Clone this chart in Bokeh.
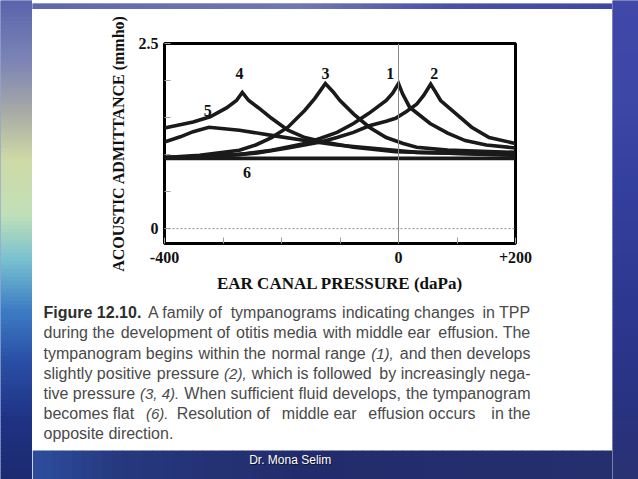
from bokeh.plotting import figure
from bokeh.models import Label, BoxAnnotation, Span, FixedTicker
from bokeh.layouts import row, column
from bokeh.embed import file_html
from bokeh.resources import INLINE

# ---------------- data ----------------
# pressure in daPa, admittance in mmho
x1 = [-400, -357, -272, -217, -160, -133, -105, -77, -50, -21, -10, 0, 7, 19, 54, 84, 114, 150, 200]
y1 = [0.96, 0.97, 1.00, 1.06, 1.15, 1.22, 1.30, 1.42, 1.56, 1.73, 1.83, 1.96, 1.82, 1.64, 1.42, 1.29, 1.19, 1.13, 1.09]

x2 = [-400, -300, -244, -189, -133, -105, -77, -50, -21, -5, 13, 31, 43, 55, 63, 72, 97, 125, 155, 200]
y2 = [0.96, 0.99, 1.02, 1.09, 1.17, 1.23, 1.30, 1.39, 1.45, 1.49, 1.58, 1.68, 1.80, 1.95, 1.85, 1.73, 1.56, 1.37, 1.23, 1.15]

x3 = [-400, -340, -272, -244, -217, -189, -160, -143, -133, -125, -112, -100, -77, -50, -21, 8, 31, 84, 200]
y3 = [0.96, 0.99, 1.06, 1.13, 1.23, 1.37, 1.60, 1.76, 1.87, 1.96, 1.85, 1.73, 1.55, 1.37, 1.23, 1.15, 1.10, 1.06, 1.03]

x4 = [-400, -351, -322, -294, -277, -267, -256, -239, -217, -189, -160, -127, -77, -5, 84, 200]
y4 = [1.36, 1.44, 1.51, 1.63, 1.73, 1.84, 1.73, 1.63, 1.49, 1.33, 1.23, 1.17, 1.10, 1.04, 1.02, 0.99]

x5 = [-400, -373, -351, -324, -272, -217, -160, -105, 31, 200]
y5 = [1.17, 1.24, 1.31, 1.37, 1.33, 1.26, 1.19, 1.13, 1.03, 1.00]

x6 = [-400, 200]
y6 = [0.95, 0.95]

curve_names = ["1", "2", "3", "4", "5", "6"]
# where each curve's number is printed (data units)
name_x = [-14, 61, -125, -272, -326, -259]
name_y = [2.09, 2.09, 2.09, 2.09, 1.60, 0.76]

x_ticks = [-400, -300, -200, -100, 0, 100, 200]
x_tick_labels = {-400: "-400", -300: "", -200: "", -100: "", 0: "0", 100: "", 200: "+200"}
y_ticks = [0, 0.5, 1.0, 1.5, 2.0, 2.5]
y_tick_labels = {0: "0", 0.5: "", 1.0: "", 1.5: "", 2.0: "", 2.5: "2.5"}

x_title = "EAR CANAL PRESSURE (daPa)"
y_title = "ACOUSTIC ADMITTANCE (mmho)"

# caption: one list of (phrase, style) per printed line
caption_lines = [
    [("Figure 12.10.", "bold"), ("A family of", "normal"), ("tympanograms", "normal"),
     ("indicating changes", "normal"), ("in TPP", "normal")],
    [("during the", "normal"), ("development of", "normal"), ("otitis media", "normal"),
     ("with middle ear", "normal"), ("effusion. The", "normal")],
    [("tympanogram begins", "normal"), ("within the", "normal"), ("normal range", "normal"),
     ("(1),", "italic"), ("and then develops", "normal")],
    [("slightly positive", "normal"), ("pressure", "normal"), ("(2),", "italic"),
     ("which is followed", "normal"), ("by increasingly nega-", "normal")],
    [("tive pressure", "normal"), ("(3, 4).", "italic"), ("When sufficient", "normal"),
     ("fluid develops,", "normal"), ("the tympanogram", "normal")],
    [("becomes flat", "normal"), ("(6).", "italic"), ("Resolution of", "normal"),
     ("middle ear", "normal"), ("effusion occurs", "normal"), ("in the", "normal")],
    [("opposite direction.", "normal")],
]
footer = "Dr. Mona Selim"

# ---------------- layout (page pixels) ----------------
PAGE_W, PAGE_H = 638, 479
PL, PR, PT, PB = 32, 612, 9, 450        # white page
CHART_BOTTOM = 300                       # chart figure covers PT..CHART_BOTTOM
FL, FR, FT, FB = 164, 515, 43, 243       # plot frame (page pixels)
TXT_L, TXT_R = 43, 530                   # caption text block
cap_line_y = [311.7, 331.7, 352.7, 373.3, 393.3, 413.3, 433.3]
SIZE = {"normal": 16.0, "bold": 16.0, "italic": 15.0}

# Arial / Liberation Sans advance widths (1/1000 em)
_W = {" ": 278, "(": 333, ")": 333, ",": 278, "-": 333, ".": 278,
      "A": 667, "F": 611, "P": 667, "R": 722, "T": 611, "W": 944,
      "a": 556, "b": 556, "c": 500, "d": 556, "e": 556, "f": 278, "g": 556, "h": 556,
      "i": 222, "j": 222, "k": 500, "l": 222, "m": 833, "n": 556, "o": 556, "p": 556,
      "q": 556, "r": 333, "s": 500, "t": 278, "u": 556, "v": 500, "w": 722, "x": 500,
      "y": 500, "z": 500}
_WB = {" ": 278, ".": 278, "F": 611, "i": 278, "g": 611, "u": 611, "r": 389, "e": 556}


def text_w(s, style):
    tab = _WB if style == "bold" else _W
    return sum(tab.get(ch, 556) for ch in s) / 1000.0 * SIZE[style]


def hex2rgb(h):
    h = h.lstrip("#")
    return tuple(int(h[i:i + 2], 16) for i in (0, 2, 4))


def grad(stops, t):
    for (t0, c0), (t1, c1) in zip(stops, stops[1:]):
        if t0 <= t <= t1:
            f = 0 if t1 == t0 else (t - t0) / (t1 - t0)
            a, b = hex2rgb(c0), hex2rgb(c1)
            return "#%02x%02x%02x" % tuple(int(round(a[i] + (b[i] - a[i]) * f)) for i in range(3))
    return stops[-1][1]


def no_align(f):
    if "frame_align" in f.properties():
        f.frame_align = False


def blank(w, h, color):
    f = figure(width=w, height=h, output_backend="svg", toolbar_location=None,
               x_axis_location=None, y_axis_location=None,
               min_border=0, min_border_left=0, min_border_right=0,
               min_border_top=0, min_border_bottom=0)
    f.title.visible = False
    f.grid.visible = False
    f.outline_line_color = None
    f.background_fill_color = color
    f.border_fill_color = color
    no_align(f)
    return f


def box(f, l, r, t, b, color):
    f.add_layout(BoxAnnotation(left=l, right=r, top=t, bottom=b,
                               left_units="canvas", right_units="canvas",
                               top_units="canvas", bottom_units="canvas",
                               fill_color=color, fill_alpha=1.0, line_color=None))


# ---------------- chart figure ----------------
CW, CH = PR - PL, CHART_BOTTOM - PT
p = figure(width=CW, height=CH, x_range=(-400, 200), y_range=(-0.2, 2.5),
           output_backend="svg", toolbar_location=None,
           min_border_left=FL - PL, min_border_right=PR - FR,
           min_border_top=FT - PT, min_border_bottom=CHART_BOTTOM - FB)
no_align(p)
p.title.visible = False
p.xgrid.visible = False
p.ygrid.visible = False
p.background_fill_color = "white"
p.border_fill_color = "white"
p.outline_line_color = "black"
p.outline_line_width = 3

p.xaxis.ticker = FixedTicker(ticks=x_ticks)
p.xaxis.major_label_overrides = x_tick_labels
p.yaxis.ticker = FixedTicker(ticks=y_ticks)
p.yaxis.major_label_overrides = y_tick_labels
p.xaxis.axis_label = x_title
p.yaxis.axis_label = y_title
for ax in (p.xaxis[0], p.yaxis[0]):
    ax.axis_line_color = None
    ax.major_tick_in = 6
    ax.major_tick_out = 0
    ax.major_tick_line_color = "#a0a0a0"
    ax.minor_tick_line_color = None
    ax.major_label_text_font = "Liberation Serif"
    ax.major_label_text_font_style = "bold"
    ax.major_label_text_font_size = "16px"
    ax.major_label_text_color = "#111111"
    ax.axis_label_text_font = "Liberation Serif"
    ax.axis_label_text_font_style = "bold"
    ax.axis_label_text_color = "#111111"
p.xaxis.axis_label_text_font_size = "17px"
p.yaxis.axis_label_text_font_size = "16px"
p.xaxis.major_label_standoff = 8
p.yaxis.major_label_standoff = 6
p.xaxis.axis_label_standoff = 8
p.yaxis.axis_label_standoff = 9

p.add_layout(Span(location=0, dimension="height", line_color="#8a8a8a", line_width=1))
p.add_layout(Span(location=0, dimension="width", line_color="#8a8a8a", line_width=1, line_dash="2 2"))

for xs, ys in zip([x1, x2, x3, x4, x5], [y1, y2, y3, y4, y5]):
    p.line(xs, ys, line_color="#1a1a1a", line_width=3.6, line_join="miter")
p.line(x6, y6, line_color="#1a1a1a", line_width=3.8)

for name, nx, ny in zip(curve_names, name_x, name_y):
    p.add_layout(Label(x=nx, y=ny, text=name, text_align="center", text_baseline="middle",
                       text_font="Liberation Serif", text_font_style="bold",
                       text_font_size="16px", text_color="#111111"))

# ---------------- slide background pieces ----------------
left_stops = [(0, "#5b64ac"), (60, "#7c84b6"), (110, "#a6a9a6"), (160, "#cfdaa6"), (215, "#c0e0b8"),
              (260, "#78c0d0"), (310, "#3d7cc4"), (360, "#2a4fa6"), (420, "#1f3283"), (479, "#1d2a70")]
right_stops = [(0, "#4048a8"), (100, "#3d47a6"), (200, "#333f9c"), (300, "#2d3890"),
               (400, "#283383"), (479, "#2a3272")]
bottom_stops = [(0, "#2f55a8"), (120, "#26387e"), (300, "#222c6c"), (638, "#262f6e")]
top_stops = [(0, "#5e66ac"), (300, "#7078b0"), (450, "#4a50a8"), (638, "#3e46a6")]

step = 4
left_fig = blank(PL, PAGE_H, "#2a4fa6")
right_fig = blank(PAGE_W - PR, PAGE_H, "#2d3890")
for yy in range(0, PAGE_H, step):
    box(left_fig, 0, PL, yy, yy + step + 0.5, grad(left_stops, yy + step / 2))
    box(right_fig, 0, PAGE_W - PR, yy, yy + step + 0.5, grad(right_stops, yy + step / 2))

top_fig = blank(CW, PT, "#4a52a8")
for xx in range(PL, PR, 10):
    box(top_fig, xx - PL, xx - PL + 10.5, 0, PT, grad(top_stops, xx + 5))

# ---------------- caption + footer figure ----------------
cap = blank(CW, PAGE_H - CHART_BOTTOM, "white")
for xx in range(PL, PR, 10):
    box(cap, xx - PL, xx - PL + 10.5, PB - CHART_BOTTOM, PAGE_H - CHART_BOTTOM + 1,
        grad(bottom_stops, xx + 5))


def add_text(x, y, txt, style, align):
    color = "#2e2e2e" if style == "bold" else "#4a4a4a"
    cap.add_layout(Label(x=x - PL, y=y - CHART_BOTTOM, x_units="canvas", y_units="canvas",
                         text=txt, text_align=align, text_baseline="middle",
                         text_font="Liberation Sans", text_font_style=style,
                         text_font_size="%gpx" % SIZE[style], text_color=color))


for li, phrases in enumerate(caption_lines):
    y = cap_line_y[li]
    last_line = li == len(caption_lines) - 1
    # justify: distribute free space evenly between all words of the line
    words = []
    for pi, (ph, st) in enumerate(phrases):
        for w in ph.split(" "):
            words.append((pi, w, st))
    total = sum(text_w(w, st) for _, w, st in words)
    gap = text_w(" ", "normal") if last_line else (TXT_R - TXT_L - total) / (len(words) - 1)
    x = TXT_L
    starts = {}
    for pi, w, st in words:
        starts.setdefault(pi, x)
        x += text_w(w, st) + gap
    for pi, (ph, st) in enumerate(phrases):
        if pi == len(phrases) - 1 and not last_line and pi > 0:
            add_text(TXT_R, y, ph, st, "right")
        else:
            add_text(starts[pi], y, ph, st, "left")

cap.add_layout(Label(x=290.7 - PL, y=460 - CHART_BOTTOM, x_units="canvas", y_units="canvas", text=footer,
                     text_align="center", text_baseline="middle", text_font="Liberation Sans",
                     text_font_size="12px", text_color="#10142e"))
cap.add_layout(Label(x=289.7 - PL, y=459 - CHART_BOTTOM, x_units="canvas", y_units="canvas", text=footer,
                     text_align="center", text_baseline="middle", text_font="Liberation Sans",
                     text_font_size="12px", text_color="#ffffff"))

layout = row(left_fig, column(top_fig, p, cap, spacing=0), right_fig, spacing=0)
open("out.html", "w").write(file_html(layout, INLINE))
